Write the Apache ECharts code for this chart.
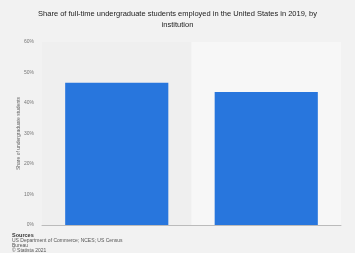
<!DOCTYPE html>
<html><head><meta charset="utf-8">
<script src="https://cdn.jsdelivr.net/npm/echarts@6/dist/echarts.min.js"></script>
<style>html,body{margin:0;padding:0;background:#f2f2f2;}#c{width:355px;height:253px;}</style>
</head><body><div id="c"></div>
<script>
const categories = ['Public institutions', 'Private institutions'];
const shareEmployed = [46.6, 43.6];
const yTicks = [0, 10, 20, 30, 40, 50, 60];

const chart = echarts.init(document.getElementById('c'), null, {renderer: 'canvas'});
chart.setOption({
  backgroundColor: '#f2f2f2',
  animation: false,
  title: {
    text: 'Share of full-time undergraduate students employed in the United States in 2019, by\ninstitution',
    left: 'center', top: 3,
    textStyle: {fontFamily: 'Arial, Liberation Sans', fontSize: 7.5, fontWeight: 'normal', color: '#222', lineHeight: 11}
  },
  graphic: [
    {type: 'text', left: 12, top: 232, style: {text: 'Sources', font: 'bold 5.5px Arial, Liberation Sans', fill: '#333'}},
    {type: 'text', left: 12, top: 238, style: {text: 'US Department of Commerce; NCES; US Census\nBureau\n© Statista 2021', font: '5px Arial, Liberation Sans', fill: '#555', lineHeight: 5.2}}
  ],
  grid: {left: 42, right: 14, top: 42, bottom: 28, containLabel: false},
  xAxis: {
    type: 'category', data: categories,
    axisLine: {lineStyle: {color: '#bbb', width: 1}},
    axisTick: {show: false},
    axisLabel: {show: false},
    splitArea: {show: true, areaStyle: {color: ['#efefef', '#f7f7f7']}}
  },
  yAxis: {
    type: 'value', min: yTicks[0], max: yTicks[yTicks.length - 1], interval: 10,
    name: 'Share of undergraduate students', nameLocation: 'middle', nameGap: 21,
    nameMoveOverlap: false,
    nameTextStyle: {fontFamily: 'Arial, Liberation Sans', fontSize: 5, color: '#666'},
    axisLine: {show: false}, axisTick: {show: false},
    axisLabel: {formatter: v => v + '%', fontFamily: 'Arial, Liberation Sans', fontSize: 5, color: '#777', margin: 8},
    splitLine: {lineStyle: {color: '#dcdcdc', type: [3, 2], width: 0.8}}
  },
  series: [{
    type: 'bar', data: shareEmployed, barWidth: '69%',
    itemStyle: {color: '#2876dd'}
  }]
});
</script></body></html>
